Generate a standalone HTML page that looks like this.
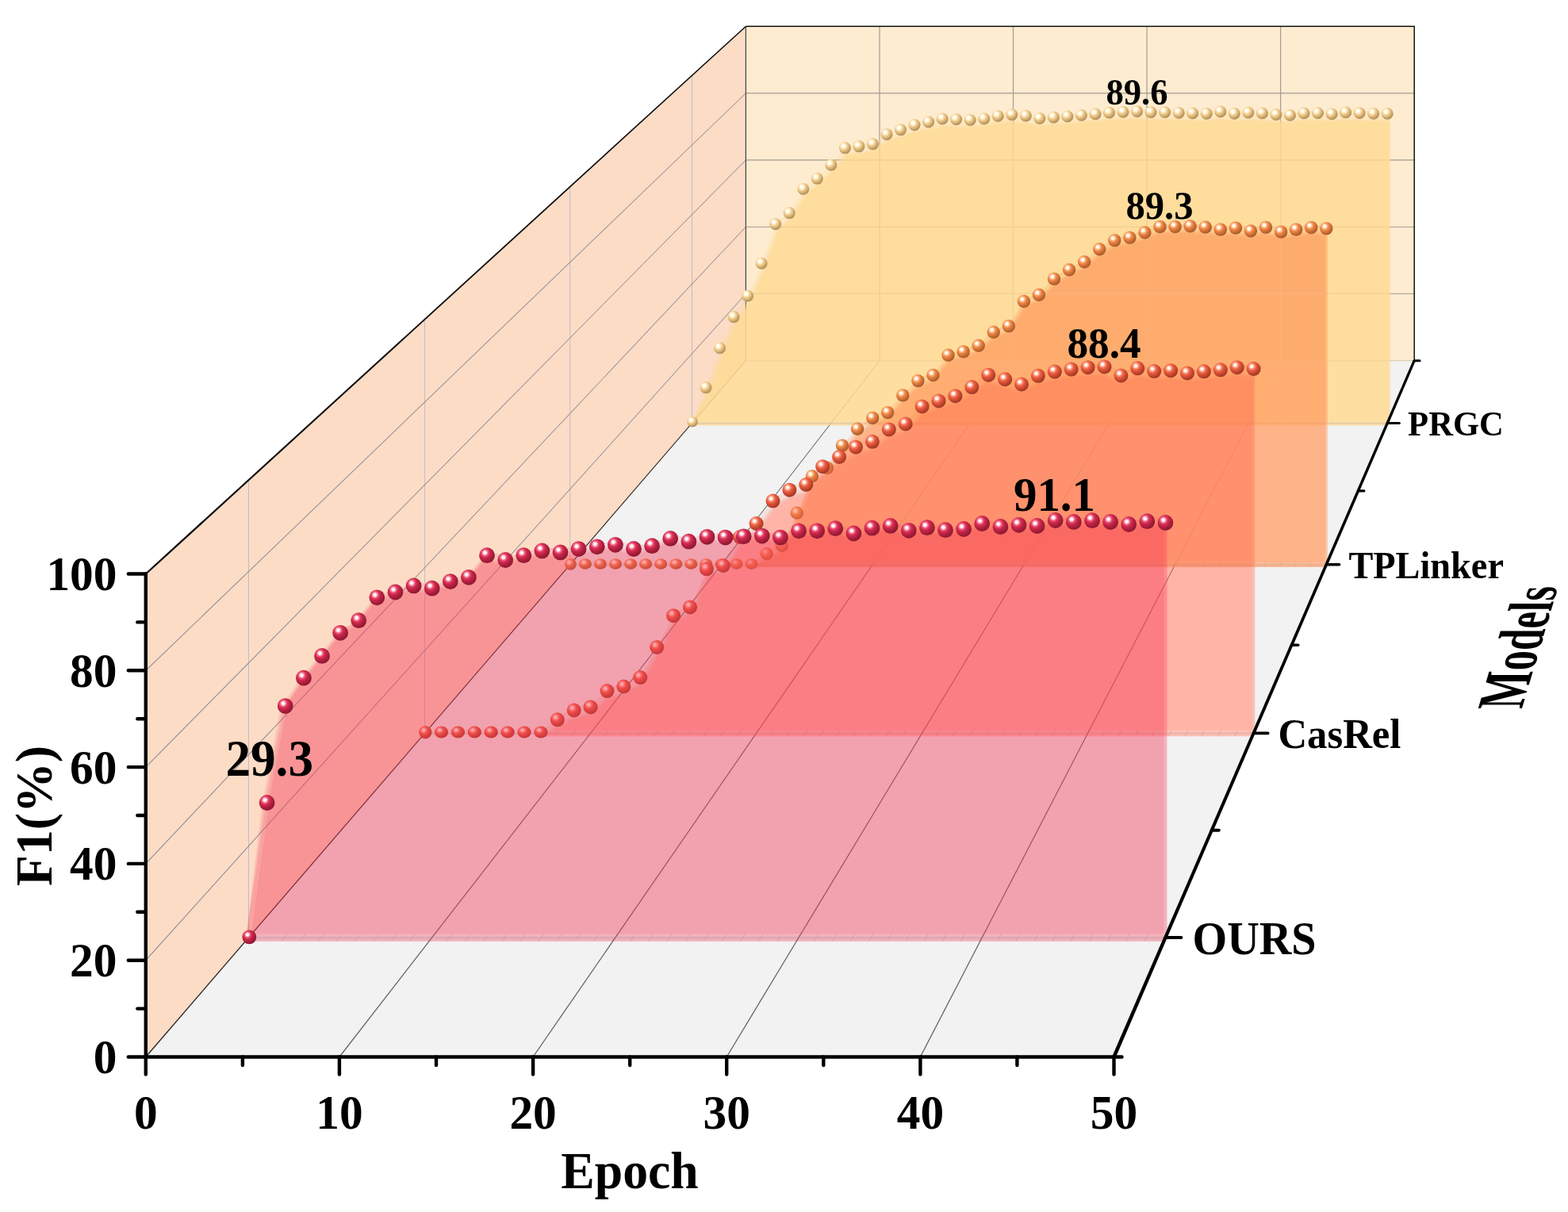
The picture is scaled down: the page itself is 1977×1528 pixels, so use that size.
<!DOCTYPE html>
<html lang="en"><head><meta charset="utf-8"><title>F1 vs Epoch by Model</title>
<style>html,body{margin:0;padding:0;background:#fff}body{width:1977px;height:1528px;overflow:hidden}svg{display:block}text{font-family:"Liberation Serif",serif;font-weight:bold;fill:#000}</style>
</head><body>
<svg width="1977" height="1528" viewBox="0 0 1977 1528" role="img" aria-label="F1 score versus epoch for four models">
<defs>
<radialGradient id="gO" cx="0.37" cy="0.33" r="0.74" fx="0.37" fy="0.33"><stop offset="0" stop-color="#ffffff"/><stop offset="0.12" stop-color="#fff0f4"/><stop offset="0.27" stop-color="#f05a7c"/><stop offset="0.42" stop-color="#d12a4e"/><stop offset="0.7" stop-color="#a81d3b"/><stop offset="1" stop-color="#84162d"/></radialGradient>
<radialGradient id="gC" cx="0.37" cy="0.33" r="0.74" fx="0.37" fy="0.33"><stop offset="0" stop-color="#ffffff"/><stop offset="0.12" stop-color="#fff3ec"/><stop offset="0.27" stop-color="#fc9074"/><stop offset="0.42" stop-color="#ea5d40"/><stop offset="0.7" stop-color="#c2442d"/><stop offset="1" stop-color="#933221"/></radialGradient>
<radialGradient id="gT" cx="0.37" cy="0.33" r="0.74" fx="0.37" fy="0.33"><stop offset="0" stop-color="#ffffff"/><stop offset="0.14" stop-color="#fff7ec"/><stop offset="0.29" stop-color="#fcae74"/><stop offset="0.44" stop-color="#ec8544"/><stop offset="0.7" stop-color="#c66a34"/><stop offset="1" stop-color="#9c5429"/></radialGradient>
<radialGradient id="gP" cx="0.37" cy="0.33" r="0.74" fx="0.37" fy="0.33"><stop offset="0" stop-color="#ffffff"/><stop offset="0.17" stop-color="#fffdf2"/><stop offset="0.33" stop-color="#fbe0ac"/><stop offset="0.48" stop-color="#ebc789"/><stop offset="0.72" stop-color="#cba669"/><stop offset="1" stop-color="#a38351"/></radialGradient>
</defs>
<rect width="1977" height="1528" fill="#ffffff"/>
<polygon points="183.8,1332.5 183.8,723.5 940.4,33.2 940.4,454.7" fill="#fddcc6"/>
<polygon points="940.4,454.7 940.4,33.2 1783.2,33.2 1783.2,454.7" fill="#feecd1"/>
<polygon points="183.8,1332.5 1404.5,1332.5 1783.2,454.7 940.4,454.7" fill="#f2f2f2"/>
</g>
<clipPath id="cFloor"><polygon points="183.8,1332.5 1404.5,1332.5 1783.2,454.7 940.4,454.7"/></clipPath>
<g clip-path="url(#cFloor)" fill="#fff3f2"><polygon points="870.1,536.2 896.3,494.4 913.8,444.7 930.9,406.4 948.5,379.7 966.5,337.8 983.5,289.3 1000.2,276.6 1017.7,246.3 1034.1,234.3 1052.5,216.3 1068.3,196.5 1082.1,195.9 1102.0,192.2 1120.1,179.8 1136.4,174.5 1153.5,168.5 1170.6,164.9 1187.0,161.0 1203.3,161.8 1221.5,162.6 1240.1,161.0 1257.7,157.5 1274.0,155.9 1290.3,157.2 1308.6,160.5 1327.3,159.2 1344.9,158.0 1362.5,156.6 1380.2,155.0 1397.5,153.3 1414.9,152.5 1431.9,151.7 1449.3,152.8 1466.9,152.8 1484.4,153.5 1502.0,154.0 1520.3,154.5 1537.3,152.0 1554.6,154.5 1572.6,153.3 1589.4,154.0 1606.9,155.8 1625.6,156.6 1643.4,154.0 1660.0,153.8 1678.0,155.0 1695.7,153.0 1712.5,153.8 1730.3,154.5 1748.0,154.5 1748.0,536.2 870.1,536.2"/><polygon points="716.0,715.0 735.1,715.0 754.2,715.0 773.3,715.0 792.4,715.0 811.5,715.0 830.6,715.0 849.7,715.0 868.8,715.0 887.9,715.0 907.0,715.0 926.1,715.0 945.2,715.0 967.9,707.3 988.9,694.9 1008.8,652.6 1027.3,607.3 1045.6,597.8 1065.2,568.8 1083.5,548.8 1101.2,536.0 1121.2,528.5 1141.1,506.0 1159.1,488.7 1178.8,481.1 1197.7,455.9 1214.6,452.8 1235.4,444.4 1254.5,427.2 1274.7,418.7 1293.9,387.5 1312.1,380.0 1331.5,359.6 1349.6,348.9 1369.2,338.6 1388.4,322.4 1406.0,312.1 1424.3,308.8 1444.0,302.3 1462.1,295.2 1480.1,295.3 1498.9,294.5 1517.3,295.8 1537.0,298.8 1556.0,296.8 1575.5,300.6 1594.3,296.0 1613.1,301.8 1633.7,298.8 1652.0,296.3 1670.9,297.5 1670.9,715.0 716.0,715.0"/><polygon points="532.3,928.2 553.2,928.2 574.1,928.2 595.1,928.2 616.0,928.2 636.9,928.2 657.9,928.2 678.8,928.2 704.6,918.2 723.7,907.3 745.9,902.6 767.1,882.1 786.7,877.2 810.9,863.4 832.9,823.7 852.9,785.3 874.2,774.0 894.8,726.2 915.0,722.7 936.7,685.8 957.2,669.2 978.0,641.0 996.6,628.8 1018.7,621.4 1040.2,598.1 1059.9,586.7 1080.1,574.8 1101.5,567.6 1122.4,552.2 1144.2,544.8 1165.2,522.7 1183.8,516.8 1205.4,510.3 1227.6,498.5 1246.0,484.2 1262.6,489.6 1286.8,496.2 1309.8,484.9 1329.4,480.1 1349.8,477.2 1370.2,474.9 1388.5,473.8 1411.1,485.2 1433.5,475.9 1452.7,479.8 1473.8,478.9 1495.0,482.1 1517.0,480.0 1538.1,477.9 1558.3,474.9 1578.9,476.7 1578.9,928.2 532.3,928.2"/></g>
<g fill="none" stroke-linecap="butt">
<g fill="none" stroke-linecap="butt">
<line x1="313.5" y1="1182.0" x2="313.5" y2="605.2" stroke="#bdbcc9" stroke-width="1"/>
<line x1="535.6" y1="924.4" x2="535.6" y2="402.5" stroke="#bdbcc9" stroke-width="1"/>
<line x1="718.8" y1="711.8" x2="718.8" y2="235.4" stroke="#bdbcc9" stroke-width="1"/>
<line x1="872.5" y1="533.5" x2="872.5" y2="95.2" stroke="#bdbcc9" stroke-width="1"/>
<polygon points="184.19,1211.05 940.68,370.65 940.12,370.15 183.41,1210.35" fill="#88888f" fill-opacity="1.0" stroke="none"/>
<polygon points="184.18,1089.26 940.67,286.36 940.13,285.84 183.42,1088.54" fill="#88888f" fill-opacity="1.0" stroke="none"/>
<polygon points="184.17,967.47 940.67,202.06 940.13,201.54 183.43,966.73" fill="#88888f" fill-opacity="1.0" stroke="none"/>
<polygon points="184.16,845.68 940.66,117.77 940.14,117.23 183.44,844.92" fill="#88888f" fill-opacity="1.0" stroke="none"/>
<line x1="940.4" y1="370.4" x2="1783.2" y2="370.4" stroke="#b0a79b" stroke-width="1.4"/>
<line x1="940.4" y1="286.1" x2="1783.2" y2="286.1" stroke="#b0a79b" stroke-width="1.4"/>
<line x1="940.4" y1="201.8" x2="1783.2" y2="201.8" stroke="#b0a79b" stroke-width="1.4"/>
<line x1="940.4" y1="117.5" x2="1783.2" y2="117.5" stroke="#b0a79b" stroke-width="1.4"/>
<line x1="1109.0" y1="454.7" x2="1109.0" y2="33.2" stroke="#a29c94" stroke-width="1.2"/>
<line x1="1277.5" y1="454.7" x2="1277.5" y2="33.2" stroke="#a29c94" stroke-width="1.2"/>
<line x1="1446.1" y1="454.7" x2="1446.1" y2="33.2" stroke="#a29c94" stroke-width="1.2"/>
<line x1="1614.6" y1="454.7" x2="1614.6" y2="33.2" stroke="#a29c94" stroke-width="1.2"/>
<polygon points="428.45,1332.90 1109.32,454.98 1108.60,454.42 427.43,1332.10" fill="#626262" fill-opacity="1.0" stroke="none"/>
<polygon points="672.62,1332.87 1277.89,454.96 1277.15,454.44 671.54,1332.13" fill="#626262" fill-opacity="1.0" stroke="none"/>
<polygon points="916.78,1332.84 1446.47,454.93 1445.69,454.47 915.66,1332.16" fill="#626262" fill-opacity="1.0" stroke="none"/>
<polygon points="1160.94,1332.80 1615.04,454.91 1614.24,454.49 1159.78,1332.20" fill="#626262" fill-opacity="1.0" stroke="none"/>
<polygon points="184.31,1332.94 940.78,455.03 940.02,454.37 183.29,1332.06" fill="#262626" fill-opacity="1.0" stroke="none"/>
<line x1="940.4" y1="454.7" x2="940.4" y2="33.2" stroke="#444" stroke-width="1.2"/>
<line x1="940.4" y1="454.7" x2="1783.2" y2="454.7" stroke="#d9c4a4" stroke-width="1"/>
<polyline points="940.4,33.2 1783.2,33.2 1783.2,454.7" stroke="#111" stroke-width="1.5" stroke-linejoin="round"/>
<polygon points="184.58,724.35 940.91,33.75 939.89,32.65 183.02,722.65" fill="#0c0c0c" fill-opacity="1.0" stroke="none"/>
</g>
<g fill="#fedb94">
<polygon points="874.8,530.8 892.3,486.0 909.8,436.2 927.3,397.1 944.8,370.5 962.4,329.6 979.9,280.1 997.4,266.2 1014.9,235.9 1032.4,222.8 1049.9,205.6 1067.4,184.4 1084.9,182.4 1102.5,179.4 1120.0,167.2 1137.5,161.4 1155.0,155.3 1172.5,151.6 1190.0,147.5 1207.5,148.3 1225.0,149.0 1242.5,147.5 1260.1,144.0 1277.6,142.4 1295.1,143.7 1312.6,147.0 1330.1,145.7 1347.6,144.5 1365.1,143.1 1382.6,141.5 1400.1,139.8 1417.7,139.0 1435.2,138.2 1452.7,139.3 1470.2,139.3 1487.7,140.0 1505.2,140.5 1522.7,141.0 1540.2,138.5 1557.7,141.0 1575.3,139.8 1592.8,140.5 1610.3,142.3 1627.8,143.1 1645.3,140.5 1662.8,140.3 1680.3,141.5 1697.8,139.5 1715.3,140.3 1732.9,141.0 1753.2,141.0 1753.2,530.8 874.8,530.8" fill-opacity="0.255"/>
<polyline points="874.8,530.8 892.3,486.0 909.8,436.2 927.3,397.1 944.8,370.5 962.4,329.6 979.9,280.1 997.4,266.2 1014.9,235.9 1032.4,222.8 1049.9,205.6 1067.4,184.4 1084.9,182.4 1102.5,179.4 1120.0,167.2 1137.5,161.4 1155.0,155.3 1172.5,151.6 1190.0,147.5 1207.5,148.3 1225.0,149.0 1242.5,147.5 1260.1,144.0 1277.6,142.4 1295.1,143.7 1312.6,147.0 1330.1,145.7 1347.6,144.5 1365.1,143.1 1382.6,141.5 1400.1,139.8 1417.7,139.0 1435.2,138.2 1452.7,139.3 1470.2,139.3 1487.7,140.0 1505.2,140.5 1522.7,141.0 1540.2,138.5 1557.7,141.0 1575.3,139.8 1592.8,140.5 1610.3,142.3 1627.8,143.1 1645.3,140.5 1662.8,140.3 1680.3,141.5 1697.8,139.5 1715.3,140.3 1732.9,141.0 1750.4,141.0" fill="none" stroke="#f0b45e" stroke-opacity="0.14" stroke-width="0.9" stroke-linejoin="round"/>
<polygon points="1750.8,152.4 1753.2,148.0 1753.2,530.8 1750.8,536.2" fill-opacity="0.468"/>
<polygon points="870.1,536.2 892.2,492.9 909.8,443.2 927.1,404.4 944.7,377.7 962.4,336.2 979.7,287.2 996.8,274.0 1014.4,243.6 1031.3,231.1 1049.3,213.4 1066.0,192.9 1081.5,191.6 1100.3,188.3 1118.2,175.9 1135.1,170.4 1152.4,164.4 1169.7,160.7 1186.6,156.7 1203.5,157.5 1221.4,158.2 1239.5,156.7 1257.1,153.2 1274.0,151.6 1290.9,152.9 1308.8,156.2 1327.0,154.9 1344.6,153.7 1362.2,152.3 1379.8,150.7 1397.2,149.0 1414.7,148.2 1432.0,147.4 1449.4,148.5 1467.0,148.5 1484.5,149.2 1502.1,149.7 1520.1,150.2 1537.3,147.7 1554.7,150.2 1572.5,149.0 1589.7,149.7 1607.2,151.5 1625.4,152.3 1643.1,149.7 1660.1,149.5 1677.9,150.7 1695.5,148.7 1712.7,149.5 1730.4,150.2 1750.8,150.2 1750.8,536.2 870.1,536.2" fill-opacity="0.3301"/>
<polygon points="870.1,536.2 893.6,493.4 911.1,443.7 928.4,405.1 945.9,378.4 963.8,336.7 981.0,287.9 998.0,274.9 1015.5,244.5 1032.3,232.2 1050.4,214.4 1066.8,194.1 1081.7,193.1 1100.9,189.6 1118.8,177.2 1135.5,171.8 1152.8,165.8 1170.0,162.1 1186.8,158.2 1203.5,159.0 1221.4,159.7 1239.7,158.1 1257.3,154.6 1274.0,153.1 1290.7,154.3 1308.7,157.7 1327.1,156.4 1344.7,155.2 1362.3,153.8 1379.9,152.1 1397.3,150.5 1414.7,149.7 1431.9,148.9 1449.4,150.0 1467.0,150.0 1484.5,150.7 1502.0,151.2 1520.1,151.7 1537.3,149.2 1554.7,151.7 1572.5,150.5 1589.6,151.2 1607.1,153.0 1625.5,153.8 1643.2,151.2 1660.1,151.0 1677.9,152.2 1695.6,150.2 1712.6,151.0 1730.3,151.7 1750.8,151.7 1750.8,536.2 870.1,536.2" fill-opacity="0.3301"/>
<polygon points="870.1,536.2 894.9,493.9 912.4,444.2 929.6,405.8 947.2,379.1 965.1,337.2 982.2,288.6 999.1,275.7 1016.6,245.4 1033.2,233.2 1051.4,215.4 1067.5,195.3 1081.9,194.5 1101.5,190.9 1119.5,178.5 1136.0,173.1 1153.1,167.1 1170.3,163.5 1186.9,159.6 1203.4,160.4 1221.5,161.1 1239.9,159.5 1257.5,156.0 1274.0,154.5 1290.5,155.7 1308.6,159.1 1327.2,157.8 1344.8,156.6 1362.4,155.2 1380.0,153.6 1397.4,151.9 1414.8,151.1 1431.9,150.3 1449.3,151.4 1467.0,151.4 1484.4,152.1 1502.0,152.6 1520.2,153.1 1537.3,150.6 1554.6,153.1 1572.6,151.9 1589.5,152.6 1607.0,154.4 1625.5,155.2 1643.3,152.6 1660.0,152.4 1678.0,153.6 1695.6,151.6 1712.6,152.4 1730.3,153.1 1750.8,153.1 1750.8,536.2 870.1,536.2" fill-opacity="0.3301"/>
<polygon points="870.1,536.2 896.3,494.4 913.8,444.7 930.9,406.4 948.5,379.7 966.5,337.8 983.5,289.3 1000.2,276.6 1017.7,246.3 1034.1,234.3 1052.5,216.3 1068.3,196.5 1082.1,195.9 1102.0,192.2 1120.1,179.8 1136.4,174.5 1153.5,168.5 1170.6,164.9 1187.0,161.0 1203.3,161.8 1221.5,162.6 1240.1,161.0 1257.7,157.5 1274.0,155.9 1290.3,157.2 1308.6,160.5 1327.3,159.2 1344.9,158.0 1362.5,156.6 1380.2,155.0 1397.5,153.3 1414.9,152.5 1431.9,151.7 1449.3,152.8 1466.9,152.8 1484.4,153.5 1502.0,154.0 1520.3,154.5 1537.3,152.0 1554.6,154.5 1572.6,153.3 1589.4,154.0 1606.9,155.8 1625.6,156.6 1643.4,154.0 1660.0,153.8 1678.0,155.0 1695.7,153.0 1712.5,153.8 1730.3,154.5 1750.8,154.5 1750.8,536.2 870.1,536.2" fill-opacity="0.3301"/>
</g>
<line x1="872.5" y1="533.7" x2="1749.2" y2="533.7" stroke="#8f8f96" stroke-opacity="0.2" stroke-width="2.4"/>
<path d="M909.0 530.8L904.4 536.2M926.5 530.8L921.9 536.2M944.0 530.8L939.5 536.2M961.5 530.8L957.1 536.2M979.0 530.8L974.6 536.2M996.5 530.8L992.2 536.2M1014.0 530.8L1009.7 536.2M1031.5 530.8L1027.3 536.2M1049.0 530.8L1044.8 536.2M1066.6 530.8L1062.4 536.2M1084.1 530.8L1080.0 536.2M1101.6 530.8L1097.5 536.2M1119.1 530.8L1115.1 536.2M1136.6 530.8L1132.6 536.2M1154.1 530.8L1150.2 536.2M1171.6 530.8L1167.7 536.2M1189.1 530.8L1185.3 536.2M1206.6 530.8L1202.9 536.2M1224.2 530.8L1220.4 536.2M1241.7 530.8L1238.0 536.2M1259.2 530.8L1255.5 536.2M1276.7 530.8L1273.1 536.2M1294.2 530.8L1290.7 536.2M1311.7 530.8L1308.2 536.2M1329.2 530.8L1325.8 536.2M1346.7 530.8L1343.3 536.2M1364.2 530.8L1360.9 536.2M1381.8 530.8L1378.4 536.2M1399.3 530.8L1396.0 536.2M1416.8 530.8L1413.6 536.2M1434.3 530.8L1431.1 536.2M1451.8 530.8L1448.7 536.2M1469.3 530.8L1466.2 536.2M1486.8 530.8L1483.8 536.2M1504.3 530.8L1501.3 536.2M1521.8 530.8L1518.9 536.2M1539.4 530.8L1536.5 536.2M1556.9 530.8L1554.0 536.2M1574.4 530.8L1571.6 536.2M1591.9 530.8L1589.1 536.2M1609.4 530.8L1606.7 536.2M1626.9 530.8L1624.3 536.2M1644.4 530.8L1641.8 536.2M1661.9 530.8L1659.4 536.2M1679.4 530.8L1676.9 536.2M1697.0 530.8L1694.5 536.2M1714.5 530.8L1712.0 536.2M1732.0 530.8L1729.6 536.2M1749.5 530.8L1747.2 536.2" fill="none" stroke="#f0b45e" stroke-opacity="0.3" stroke-width="0.7"/>
<clipPath id="cPRGC"><polygon points="870.1,536.2 896.1,494.4 913.6,444.7 930.8,406.4 948.4,379.6 966.3,337.7 983.4,289.2 1000.1,276.5 1017.6,246.2 1034.0,234.2 1052.4,216.2 1068.3,196.3 1082.1,195.8 1102.0,192.1 1120.1,179.6 1136.4,174.3 1153.5,168.4 1170.6,164.8 1187.0,160.9 1203.4,161.7 1221.5,162.4 1240.1,160.8 1257.7,157.3 1274.0,155.8 1290.4,157.0 1308.6,160.4 1327.3,159.1 1344.9,157.9 1362.5,156.5 1380.2,154.9 1397.5,153.2 1414.8,152.4 1431.9,151.6 1449.3,152.7 1466.9,152.7 1484.4,153.4 1502.0,153.9 1520.3,154.4 1537.3,151.9 1554.6,154.4 1572.6,153.2 1589.4,153.9 1606.9,155.7 1625.6,156.5 1643.4,153.9 1660.0,153.7 1678.0,154.9 1695.7,152.9 1712.5,153.7 1730.3,154.4 1750.8,154.4 1750.8,536.2 870.1,536.2"/></clipPath>
<g clip-path="url(#cPRGC)" stroke="#f7cd96" stroke-opacity="0.75" stroke-width="1.1" fill="none"><polyline points="1047.8,533.5 1109.0,454.7 1109.0,33.2"/><polyline points="1223.2,533.5 1277.5,454.7 1277.5,33.2"/><polyline points="1398.5,533.5 1446.1,454.7 1446.1,33.2"/><polyline points="1573.9,533.5 1614.6,454.7 1614.6,33.2"/><polyline points="872.5,533.5 940.4,454.7 1783.2,454.7"/><polyline points="872.5,445.8 940.4,370.4 1783.2,370.4"/><polyline points="872.5,358.2 940.4,286.1 1783.2,286.1"/><polyline points="872.5,270.5 940.4,201.8 1783.2,201.8"/><polyline points="872.5,182.8 940.4,117.5 1783.2,117.5"/><line x1="940.4" y1="454.7" x2="940.4" y2="33.2"/></g>
<g fill="url(#gP)"><circle cx="873.0" cy="531.8" r="6.8"/><circle cx="890.0" cy="488.6" r="7.5"/><circle cx="907.5" cy="438.8" r="7.5"/><circle cx="925.1" cy="399.6" r="7.5"/><circle cx="942.6" cy="373.0" r="7.5"/><circle cx="960.1" cy="332.0" r="7.5"/><circle cx="977.7" cy="282.5" r="7.5"/><circle cx="995.2" cy="268.6" r="7.5"/><circle cx="1012.8" cy="238.2" r="7.5"/><circle cx="1030.3" cy="225.1" r="7.5"/><circle cx="1047.8" cy="207.9" r="7.5"/><circle cx="1065.4" cy="186.6" r="7.5"/><circle cx="1082.9" cy="184.6" r="7.5"/><circle cx="1100.4" cy="181.6" r="7.5"/><circle cx="1118.0" cy="169.4" r="7.5"/><circle cx="1135.5" cy="163.6" r="7.5"/><circle cx="1153.0" cy="157.5" r="7.5"/><circle cx="1170.6" cy="153.8" r="7.5"/><circle cx="1188.1" cy="149.7" r="7.5"/><circle cx="1205.6" cy="150.5" r="7.5"/><circle cx="1223.2" cy="151.2" r="7.5"/><circle cx="1240.7" cy="149.7" r="7.5"/><circle cx="1258.2" cy="146.2" r="7.5"/><circle cx="1275.8" cy="144.6" r="7.5"/><circle cx="1293.3" cy="145.9" r="7.5"/><circle cx="1310.8" cy="149.2" r="7.5"/><circle cx="1328.4" cy="147.9" r="7.5"/><circle cx="1345.9" cy="146.7" r="7.5"/><circle cx="1363.4" cy="145.3" r="7.5"/><circle cx="1381.0" cy="143.7" r="7.5"/><circle cx="1398.5" cy="142.0" r="7.5"/><circle cx="1416.0" cy="141.2" r="7.5"/><circle cx="1433.6" cy="140.4" r="7.5"/><circle cx="1451.1" cy="141.5" r="7.5"/><circle cx="1468.6" cy="141.5" r="7.5"/><circle cx="1486.2" cy="142.2" r="7.5"/><circle cx="1503.7" cy="142.7" r="7.5"/><circle cx="1521.3" cy="143.2" r="7.5"/><circle cx="1538.8" cy="140.7" r="7.5"/><circle cx="1556.3" cy="143.2" r="7.5"/><circle cx="1573.9" cy="142.0" r="7.5"/><circle cx="1591.4" cy="142.7" r="7.5"/><circle cx="1608.9" cy="144.5" r="7.5"/><circle cx="1626.5" cy="145.3" r="7.5"/><circle cx="1644.0" cy="142.7" r="7.5"/><circle cx="1661.5" cy="142.5" r="7.5"/><circle cx="1679.1" cy="143.7" r="7.5"/><circle cx="1696.6" cy="141.7" r="7.5"/><circle cx="1714.1" cy="142.5" r="7.5"/><circle cx="1731.7" cy="143.2" r="7.5"/><circle cx="1749.2" cy="143.2" r="7.5"/></g>
<g fill="#ff995c">
<polygon points="721.5,708.6 740.6,708.6 759.6,708.6 778.7,708.6 797.7,708.6 816.7,708.6 835.8,708.6 854.8,708.6 873.9,708.6 892.9,708.6 912.0,708.6 931.0,708.6 950.0,708.6 969.1,695.1 988.1,684.5 1007.2,643.6 1026.2,597.4 1045.3,587.0 1064.3,558.6 1083.3,537.8 1102.4,524.1 1121.4,517.2 1140.5,495.5 1159.5,477.2 1178.6,470.1 1197.6,444.9 1216.6,440.6 1235.7,433.0 1254.7,415.9 1273.8,408.3 1292.8,377.3 1311.8,369.1 1330.9,348.9 1349.9,337.6 1369.0,327.7 1388.0,311.6 1407.1,300.5 1426.1,297.0 1445.1,290.7 1464.2,283.3 1483.2,283.3 1502.3,282.5 1521.3,283.8 1540.4,286.8 1559.4,284.8 1578.4,288.6 1597.5,284.0 1616.5,289.8 1635.6,286.8 1654.6,284.3 1673.7,285.5 1673.7,708.6 721.5,708.6" fill-opacity="0.210"/>
<polyline points="721.5,708.6 740.6,708.6 759.6,708.6 778.7,708.6 797.7,708.6 816.7,708.6 835.8,708.6 854.8,708.6 873.9,708.6 892.9,708.6 912.0,708.6 931.0,708.6 950.0,708.6 969.1,695.1 988.1,684.5 1007.2,643.6 1026.2,597.4 1045.3,587.0 1064.3,558.6 1083.3,537.8 1102.4,524.1 1121.4,517.2 1140.5,495.5 1159.5,477.2 1178.6,470.1 1197.6,444.9 1216.6,440.6 1235.7,433.0 1254.7,415.9 1273.8,408.3 1292.8,377.3 1311.8,369.1 1330.9,348.9 1349.9,337.6 1369.0,327.7 1388.0,311.6 1407.1,300.5 1426.1,297.0 1445.1,290.7 1464.2,283.3 1483.2,283.3 1502.3,282.5 1521.3,283.8 1540.4,286.8 1559.4,284.8 1578.4,288.6 1597.5,284.0 1616.5,289.8 1635.6,286.8 1654.6,284.3 1673.7,285.5" fill="none" stroke="#f07a3a" stroke-opacity="0.14" stroke-width="0.9" stroke-linejoin="round"/>
<polygon points="1670.9,295.2 1673.7,290.0 1673.7,708.6 1670.9,715.0" fill-opacity="0.385"/>
<polygon points="716.0,715.0 735.1,715.0 754.2,715.0 773.3,715.0 792.4,715.0 811.5,715.0 830.6,715.0 849.7,715.0 868.8,715.0 887.9,715.0 907.0,715.0 926.1,715.0 945.2,715.0 965.4,703.3 985.1,692.2 1004.5,650.7 1023.4,604.6 1042.2,594.5 1061.5,565.9 1080.3,545.4 1099.0,531.8 1118.4,524.8 1137.7,502.8 1156.5,484.8 1175.8,477.5 1194.8,452.2 1213.2,448.3 1232.8,440.4 1251.9,423.3 1271.4,415.4 1290.5,384.2 1309.3,376.2 1328.5,355.9 1347.3,344.9 1366.6,334.7 1385.7,318.6 1404.3,307.7 1423.2,304.3 1442.5,297.9 1461.2,290.6 1480.0,290.6 1499.0,289.8 1517.9,291.1 1537.2,294.2 1556.2,292.1 1575.5,296.0 1594.4,291.3 1613.4,297.2 1633.0,294.1 1651.9,291.6 1670.9,292.9 1670.9,715.0 716.0,715.0" fill-opacity="0.2150"/>
<polygon points="716.0,715.0 735.1,715.0 754.2,715.0 773.3,715.0 792.4,715.0 811.5,715.0 830.6,715.0 849.7,715.0 868.8,715.0 887.9,715.0 907.0,715.0 926.1,715.0 945.2,715.0 966.3,704.6 986.4,693.1 1005.9,651.3 1024.7,605.5 1043.3,595.6 1062.7,566.9 1081.4,546.5 1099.7,533.2 1119.3,526.0 1138.9,503.9 1157.3,486.1 1176.8,478.7 1195.7,453.5 1213.7,449.8 1233.7,441.7 1252.8,424.6 1272.5,416.5 1291.6,385.3 1310.3,377.5 1329.5,357.2 1348.0,346.2 1367.4,336.0 1386.6,319.9 1404.9,309.2 1423.6,305.8 1443.0,299.4 1461.5,292.1 1480.0,292.2 1499.0,291.4 1517.7,292.7 1537.1,295.7 1556.1,293.7 1575.5,297.5 1594.4,292.9 1613.3,298.7 1633.2,295.7 1651.9,293.2 1670.9,294.4 1670.9,715.0 716.0,715.0" fill-opacity="0.2150"/>
<polygon points="716.0,715.0 735.1,715.0 754.2,715.0 773.3,715.0 792.4,715.0 811.5,715.0 830.6,715.0 849.7,715.0 868.8,715.0 887.9,715.0 907.0,715.0 926.1,715.0 945.2,715.0 967.1,705.9 987.6,694.0 1007.3,651.9 1026.0,606.4 1044.4,596.7 1063.9,567.8 1082.4,547.7 1100.5,534.6 1120.2,527.3 1140.0,504.9 1158.2,487.4 1177.8,479.9 1196.7,454.7 1214.1,451.3 1234.5,443.0 1253.6,425.9 1273.6,417.6 1292.7,386.4 1311.2,378.8 1330.5,358.4 1348.8,347.6 1368.3,337.3 1387.5,321.1 1405.4,310.6 1423.9,307.3 1443.5,300.9 1461.8,293.7 1480.0,293.8 1498.9,293.0 1517.5,294.2 1537.1,297.3 1556.1,295.3 1575.5,299.1 1594.3,294.5 1613.2,300.3 1633.5,297.2 1652.0,294.8 1670.9,296.0 1670.9,715.0 716.0,715.0" fill-opacity="0.2150"/>
<polygon points="716.0,715.0 735.1,715.0 754.2,715.0 773.3,715.0 792.4,715.0 811.5,715.0 830.6,715.0 849.7,715.0 868.8,715.0 887.9,715.0 907.0,715.0 926.1,715.0 945.2,715.0 967.9,707.3 988.9,694.9 1008.8,652.6 1027.3,607.3 1045.6,597.8 1065.2,568.8 1083.5,548.8 1101.2,536.0 1121.2,528.5 1141.1,506.0 1159.1,488.7 1178.8,481.1 1197.7,455.9 1214.6,452.8 1235.4,444.4 1254.5,427.2 1274.7,418.7 1293.9,387.5 1312.1,380.0 1331.5,359.6 1349.6,348.9 1369.2,338.6 1388.4,322.4 1406.0,312.1 1424.3,308.8 1444.0,302.3 1462.1,295.2 1480.1,295.3 1498.9,294.5 1517.3,295.8 1537.0,298.8 1556.0,296.8 1575.5,300.6 1594.3,296.0 1613.1,301.8 1633.7,298.8 1652.0,296.3 1670.9,297.5 1670.9,715.0 716.0,715.0" fill-opacity="0.2150"/>
</g>
<line x1="718.8" y1="712.1" x2="1672.3" y2="712.1" stroke="#8f8f96" stroke-opacity="0.2" stroke-width="2.7"/>
<path d="M758.7 708.6L753.3 715.0M777.7 708.6L772.4 715.0M796.8 708.6L791.5 715.0M815.8 708.6L810.6 715.0M834.8 708.6L829.7 715.0M853.9 708.6L848.7 715.0M872.9 708.6L867.8 715.0M892.0 708.6L886.9 715.0M911.0 708.6L906.0 715.0M930.1 708.6L925.1 715.0M949.1 708.6L944.2 715.0M968.1 708.6L963.3 715.0M987.2 708.6L982.4 715.0M1006.2 708.6L1001.5 715.0M1025.3 708.6L1020.6 715.0M1044.3 708.6L1039.7 715.0M1063.3 708.6L1058.8 715.0M1082.4 708.6L1077.9 715.0M1101.4 708.6L1097.0 715.0M1120.5 708.6L1116.1 715.0M1139.5 708.6L1135.2 715.0M1158.6 708.6L1154.3 715.0M1177.6 708.6L1173.4 715.0M1196.6 708.6L1192.5 715.0M1215.7 708.6L1211.6 715.0M1234.7 708.6L1230.7 715.0M1253.8 708.6L1249.8 715.0M1272.8 708.6L1268.9 715.0M1291.9 708.6L1288.0 715.0M1310.9 708.6L1307.1 715.0M1329.9 708.6L1326.2 715.0M1349.0 708.6L1345.3 715.0M1368.0 708.6L1364.4 715.0M1387.1 708.6L1383.5 715.0M1406.1 708.6L1402.6 715.0M1425.2 708.6L1421.7 715.0M1444.2 708.6L1440.8 715.0M1463.2 708.6L1459.9 715.0M1482.3 708.6L1479.0 715.0M1501.3 708.6L1498.1 715.0M1520.4 708.6L1517.2 715.0M1539.4 708.6L1536.3 715.0M1558.4 708.6L1555.4 715.0M1577.5 708.6L1574.5 715.0M1596.5 708.6L1593.5 715.0M1615.6 708.6L1612.6 715.0M1634.6 708.6L1631.7 715.0M1653.7 708.6L1650.8 715.0M1672.7 708.6L1669.9 715.0" fill="none" stroke="#f07a3a" stroke-opacity="0.3" stroke-width="0.8"/>
<clipPath id="cTPLinker"><polygon points="716.0,715.0 735.1,715.0 754.2,715.0 773.3,715.0 792.4,715.0 811.5,715.0 830.6,715.0 849.7,715.0 868.8,715.0 887.9,715.0 907.0,715.0 926.1,715.0 945.2,715.0 967.8,707.0 988.6,694.7 1008.4,652.4 1027.0,607.1 1045.3,597.6 1064.9,568.6 1083.2,548.6 1101.1,535.7 1121.0,528.2 1140.9,505.8 1158.9,488.4 1178.6,480.8 1197.4,455.7 1214.5,452.4 1235.2,444.1 1254.3,426.9 1274.5,418.4 1293.6,387.3 1311.9,379.7 1331.3,359.3 1349.4,348.6 1369.0,338.3 1388.2,322.1 1405.9,311.8 1424.2,308.5 1443.9,302.0 1462.1,294.9 1480.1,295.0 1498.9,294.2 1517.4,295.5 1537.0,298.5 1556.0,296.5 1575.5,300.3 1594.3,295.7 1613.1,301.5 1633.6,298.4 1652.0,296.0 1670.9,297.2 1670.9,715.0 716.0,715.0"/></clipPath>
<g clip-path="url(#cTPLinker)" stroke="#ffb680" stroke-opacity="0.75" stroke-width="1.1" fill="none"><polyline points="909.5,711.8 1109.0,454.7 1109.0,33.2"/><polyline points="1100.2,711.8 1277.5,454.7 1277.5,33.2"/><polyline points="1290.9,711.8 1446.1,454.7 1446.1,33.2"/><polyline points="1481.6,711.8 1614.6,454.7 1614.6,33.2"/><polyline points="718.8,711.8 940.4,454.7 1783.2,454.7"/><polyline points="718.8,616.5 940.4,370.4 1783.2,370.4"/><polyline points="718.8,521.2 940.4,286.1 1783.2,286.1"/><polyline points="718.8,426.0 940.4,201.8 1783.2,201.8"/><polyline points="718.8,330.7 940.4,117.5 1783.2,117.5"/><line x1="940.4" y1="454.7" x2="940.4" y2="33.2"/></g>
<g fill="url(#gT)"><circle cx="719.4" cy="711.3" r="7.4"/><ellipse cx="737.9" cy="711.0" rx="8.0" ry="6.7"/><ellipse cx="756.9" cy="711.0" rx="8.0" ry="6.7"/><ellipse cx="776.0" cy="711.0" rx="8.0" ry="6.7"/><ellipse cx="795.1" cy="711.0" rx="8.0" ry="6.7"/><ellipse cx="814.1" cy="711.0" rx="8.0" ry="6.7"/><ellipse cx="833.2" cy="711.0" rx="8.0" ry="6.7"/><ellipse cx="852.3" cy="711.0" rx="8.0" ry="6.7"/><ellipse cx="871.3" cy="711.0" rx="8.0" ry="6.7"/><ellipse cx="890.4" cy="711.0" rx="8.0" ry="6.7"/><ellipse cx="909.5" cy="711.0" rx="8.0" ry="6.7"/><ellipse cx="928.6" cy="711.0" rx="8.0" ry="6.7"/><ellipse cx="947.6" cy="711.0" rx="8.0" ry="6.7"/><circle cx="966.7" cy="698.3" r="8.2"/><circle cx="985.8" cy="687.7" r="8.2"/><circle cx="1004.8" cy="646.7" r="8.2"/><circle cx="1023.9" cy="600.4" r="8.2"/><circle cx="1043.0" cy="590.0" r="8.2"/><circle cx="1062.0" cy="561.6" r="8.2"/><circle cx="1081.1" cy="540.8" r="8.2"/><circle cx="1100.2" cy="527.0" r="8.2"/><circle cx="1119.2" cy="520.1" r="8.2"/><circle cx="1138.3" cy="498.4" r="8.2"/><circle cx="1157.4" cy="480.1" r="8.2"/><circle cx="1176.5" cy="473.0" r="8.2"/><circle cx="1195.5" cy="447.7" r="8.2"/><circle cx="1214.6" cy="443.4" r="8.2"/><circle cx="1233.7" cy="435.8" r="8.2"/><circle cx="1252.7" cy="418.7" r="8.2"/><circle cx="1271.8" cy="411.1" r="8.2"/><circle cx="1290.9" cy="380.0" r="8.2"/><circle cx="1309.9" cy="371.8" r="8.2"/><circle cx="1329.0" cy="351.6" r="8.2"/><circle cx="1348.1" cy="340.3" r="8.2"/><circle cx="1367.2" cy="330.3" r="8.2"/><circle cx="1386.2" cy="314.2" r="8.2"/><circle cx="1405.3" cy="303.1" r="8.2"/><circle cx="1424.4" cy="299.6" r="8.2"/><circle cx="1443.4" cy="293.3" r="8.2"/><circle cx="1462.5" cy="285.9" r="8.2"/><circle cx="1481.6" cy="285.9" r="8.2"/><circle cx="1500.6" cy="285.1" r="8.2"/><circle cx="1519.7" cy="286.4" r="8.2"/><circle cx="1538.8" cy="289.4" r="8.2"/><circle cx="1557.9" cy="287.4" r="8.2"/><circle cx="1576.9" cy="291.2" r="8.2"/><circle cx="1596.0" cy="286.6" r="8.2"/><circle cx="1615.1" cy="292.4" r="8.2"/><circle cx="1634.1" cy="289.4" r="8.2"/><circle cx="1653.2" cy="286.9" r="8.2"/><circle cx="1672.3" cy="288.1" r="8.2"/></g>
<g fill="#ff6a52">
<polygon points="538.9,920.5 559.8,920.5 580.6,920.5 601.5,920.5 622.4,920.5 643.2,920.5 664.1,920.5 685.0,920.5 705.8,903.5 726.7,891.7 747.6,887.6 768.4,867.3 789.3,861.8 810.2,850.4 831.0,812.3 851.9,772.6 872.8,761.8 893.6,713.8 914.5,709.5 935.4,673.6 956.2,656.6 977.1,628.2 998.0,614.3 1018.8,607.7 1039.7,584.9 1060.6,572.7 1081.4,560.4 1102.3,553.5 1123.2,538.2 1144.0,531.3 1164.9,509.3 1185.8,502.2 1206.6,496.0 1227.5,484.9 1248.4,469.6 1269.2,475.1 1290.1,481.4 1311.0,470.7 1331.8,465.5 1352.7,462.5 1373.6,460.1 1394.4,459.3 1415.3,470.4 1436.2,461.2 1457.0,465.0 1477.9,464.1 1498.8,467.3 1519.6,465.2 1540.5,463.2 1561.4,460.1 1582.2,461.9 1582.2,920.5 538.9,920.5" fill-opacity="0.138"/>
<polyline points="538.9,920.5 559.8,920.5 580.6,920.5 601.5,920.5 622.4,920.5 643.2,920.5 664.1,920.5 685.0,920.5 705.8,903.5 726.7,891.7 747.6,887.6 768.4,867.3 789.3,861.8 810.2,850.4 831.0,812.3 851.9,772.6 872.8,761.8 893.6,713.8 914.5,709.5 935.4,673.6 956.2,656.6 977.1,628.2 998.0,614.3 1018.8,607.7 1039.7,584.9 1060.6,572.7 1081.4,560.4 1102.3,553.5 1123.2,538.2 1144.0,531.3 1164.9,509.3 1185.8,502.2 1206.6,496.0 1227.5,484.9 1248.4,469.6 1269.2,475.1 1290.1,481.4 1311.0,470.7 1331.8,465.5 1352.7,462.5 1373.6,460.1 1394.4,459.3 1415.3,470.4 1436.2,461.2 1457.0,465.0 1477.9,464.1 1498.8,467.3 1519.6,465.2 1540.5,463.2 1561.4,460.1 1582.2,461.9" fill="none" stroke="#f0523c" stroke-opacity="0.14" stroke-width="0.9" stroke-linejoin="round"/>
<polygon points="1578.9,474.1 1582.2,467.9 1582.2,920.5 1578.9,928.2" fill-opacity="0.253"/>
<polygon points="532.3,928.2 553.2,928.2 574.1,928.2 595.1,928.2 616.0,928.2 636.9,928.2 657.9,928.2 678.8,928.2 701.7,913.9 721.9,902.5 743.3,898.2 764.3,877.8 784.8,872.4 807.0,860.1 828.4,821.3 848.9,782.0 870.0,771.0 890.8,723.0 911.5,719.0 932.7,682.6 953.5,665.8 974.3,637.4 994.3,624.1 1015.7,617.2 1036.9,594.2 1057.3,582.3 1078.0,570.1 1099.1,563.1 1120.0,547.7 1141.3,540.6 1162.2,518.5 1182.2,511.9 1203.4,505.6 1224.9,494.2 1244.8,479.2 1264.0,484.6 1286.2,491.1 1308.0,480.1 1328.4,475.1 1349.1,472.1 1369.9,469.7 1389.7,468.9 1411.3,480.1 1432.8,470.8 1453.1,474.7 1474.1,473.8 1495.1,477.0 1516.5,474.8 1537.5,472.8 1558.1,469.8 1578.9,471.6 1578.9,928.2 532.3,928.2" fill-opacity="0.1103"/>
<polygon points="532.3,928.2 553.2,928.2 574.1,928.2 595.1,928.2 616.0,928.2 636.9,928.2 657.9,928.2 678.8,928.2 702.7,915.4 722.5,904.1 744.2,899.6 765.2,879.2 785.4,874.0 808.3,861.2 829.9,822.1 850.2,783.1 871.4,772.0 892.2,724.0 912.6,720.2 934.0,683.6 954.7,666.9 975.5,638.6 995.1,625.7 1016.7,618.6 1038.0,595.5 1058.2,583.7 1078.7,571.7 1099.9,564.6 1120.8,549.2 1142.3,542.0 1163.2,519.9 1182.8,513.5 1204.1,507.1 1225.8,495.6 1245.2,480.8 1263.5,486.3 1286.4,492.8 1308.6,481.7 1328.7,476.8 1349.3,473.8 1370.0,471.5 1389.3,470.5 1411.2,481.8 1433.1,472.5 1453.0,476.4 1474.0,475.5 1495.1,478.7 1516.6,476.6 1537.7,474.5 1558.1,471.5 1578.9,473.3 1578.9,928.2 532.3,928.2" fill-opacity="0.1103"/>
<polygon points="532.3,928.2 553.2,928.2 574.1,928.2 595.1,928.2 616.0,928.2 636.9,928.2 657.9,928.2 678.8,928.2 703.6,916.8 723.1,905.7 745.1,901.1 766.1,880.7 786.1,875.6 809.6,862.3 831.4,822.9 851.6,784.2 872.8,773.0 893.5,725.1 913.8,721.5 935.4,684.7 956.0,668.1 976.7,639.8 995.8,627.2 1017.7,620.0 1039.1,596.8 1059.1,585.2 1079.4,573.2 1100.7,566.1 1121.6,550.7 1143.2,543.4 1164.2,521.3 1183.3,515.1 1204.8,508.7 1226.7,497.1 1245.6,482.5 1263.1,487.9 1286.6,494.5 1309.2,483.3 1329.0,478.5 1349.5,475.5 1370.1,473.2 1388.9,472.2 1411.1,483.5 1433.3,474.2 1452.8,478.1 1473.9,477.2 1495.0,480.4 1516.8,478.3 1537.9,476.2 1558.2,473.2 1578.9,475.0 1578.9,928.2 532.3,928.2" fill-opacity="0.1103"/>
<polygon points="532.3,928.2 553.2,928.2 574.1,928.2 595.1,928.2 616.0,928.2 636.9,928.2 657.9,928.2 678.8,928.2 704.6,918.2 723.7,907.3 745.9,902.6 767.1,882.1 786.7,877.2 810.9,863.4 832.9,823.7 852.9,785.3 874.2,774.0 894.8,726.2 915.0,722.7 936.7,685.8 957.2,669.2 978.0,641.0 996.6,628.8 1018.7,621.4 1040.2,598.1 1059.9,586.7 1080.1,574.8 1101.5,567.6 1122.4,552.2 1144.2,544.8 1165.2,522.7 1183.8,516.8 1205.4,510.3 1227.6,498.5 1246.0,484.2 1262.6,489.6 1286.8,496.2 1309.8,484.9 1329.4,480.1 1349.8,477.2 1370.2,474.9 1388.5,473.8 1411.1,485.2 1433.5,475.9 1452.7,479.8 1473.8,478.9 1495.0,482.1 1517.0,480.0 1538.1,477.9 1558.3,474.9 1578.9,476.7 1578.9,928.2 532.3,928.2" fill-opacity="0.1103"/>
</g>
<line x1="535.6" y1="924.6" x2="1580.6" y2="924.6" stroke="#8f8f96" stroke-opacity="0.2" stroke-width="2.9"/>
<path d="M579.6 920.5L573.1 928.2M600.5 920.5L594.0 928.2M621.3 920.5L615.0 928.2M642.2 920.5L635.9 928.2M663.1 920.5L656.8 928.2M683.9 920.5L677.8 928.2M704.8 920.5L698.7 928.2M725.7 920.5L719.6 928.2M746.5 920.5L740.6 928.2M767.4 920.5L761.5 928.2M788.3 920.5L782.4 928.2M809.1 920.5L803.4 928.2M830.0 920.5L824.3 928.2M850.9 920.5L845.2 928.2M871.7 920.5L866.2 928.2M892.6 920.5L887.1 928.2M913.5 920.5L908.0 928.2M934.3 920.5L929.0 928.2M955.2 920.5L949.9 928.2M976.1 920.5L970.8 928.2M996.9 920.5L991.8 928.2M1017.8 920.5L1012.7 928.2M1038.7 920.5L1033.6 928.2M1059.5 920.5L1054.6 928.2M1080.4 920.5L1075.5 928.2M1101.3 920.5L1096.4 928.2M1122.1 920.5L1117.4 928.2M1143.0 920.5L1138.3 928.2M1163.9 920.5L1159.2 928.2M1184.7 920.5L1180.1 928.2M1205.6 920.5L1201.1 928.2M1226.5 920.5L1222.0 928.2M1247.3 920.5L1242.9 928.2M1268.2 920.5L1263.9 928.2M1289.1 920.5L1284.8 928.2M1309.9 920.5L1305.7 928.2M1330.8 920.5L1326.7 928.2M1351.7 920.5L1347.6 928.2M1372.5 920.5L1368.5 928.2M1393.4 920.5L1389.5 928.2M1414.3 920.5L1410.4 928.2M1435.1 920.5L1431.3 928.2M1456.0 920.5L1452.3 928.2M1476.9 920.5L1473.2 928.2M1497.7 920.5L1494.1 928.2M1518.6 920.5L1515.1 928.2M1539.5 920.5L1536.0 928.2M1560.3 920.5L1556.9 928.2M1581.2 920.5L1577.9 928.2" fill="none" stroke="#f0523c" stroke-opacity="0.3" stroke-width="0.9"/>
<g fill="url(#gC)"><circle cx="536.3" cy="923.3" r="8.1"/><ellipse cx="556.5" cy="923.0" rx="8.7" ry="7.4"/><ellipse cx="577.4" cy="923.0" rx="8.7" ry="7.4"/><ellipse cx="598.3" cy="923.0" rx="8.7" ry="7.4"/><ellipse cx="619.2" cy="923.0" rx="8.7" ry="7.4"/><ellipse cx="640.1" cy="923.0" rx="8.7" ry="7.4"/><ellipse cx="661.0" cy="923.0" rx="8.7" ry="7.4"/><ellipse cx="681.9" cy="923.0" rx="8.7" ry="7.4"/><circle cx="702.8" cy="907.3" r="9.0"/><circle cx="723.7" cy="895.5" r="9.0"/><circle cx="744.6" cy="891.4" r="9.0"/><circle cx="765.5" cy="871.1" r="9.0"/><circle cx="786.4" cy="865.5" r="9.0"/><circle cx="807.3" cy="854.1" r="9.0"/><circle cx="828.2" cy="816.0" r="9.0"/><circle cx="849.1" cy="776.2" r="9.0"/><circle cx="870.0" cy="765.4" r="9.0"/><circle cx="890.9" cy="717.3" r="9.0"/><circle cx="911.8" cy="713.0" r="9.0"/><circle cx="932.7" cy="677.0" r="9.0"/><circle cx="953.6" cy="660.0" r="9.0"/><circle cx="974.5" cy="631.6" r="9.0"/><circle cx="995.4" cy="617.7" r="9.0"/><circle cx="1016.3" cy="611.0" r="9.0"/><circle cx="1037.2" cy="588.2" r="9.0"/><circle cx="1058.1" cy="576.0" r="9.0"/><circle cx="1079.0" cy="563.7" r="9.0"/><circle cx="1099.9" cy="556.8" r="9.0"/><circle cx="1120.8" cy="541.4" r="9.0"/><circle cx="1141.7" cy="534.5" r="9.0"/><circle cx="1162.6" cy="512.5" r="9.0"/><circle cx="1183.5" cy="505.4" r="9.0"/><circle cx="1204.4" cy="499.2" r="9.0"/><circle cx="1225.3" cy="488.1" r="9.0"/><circle cx="1246.2" cy="472.7" r="9.0"/><circle cx="1267.1" cy="478.2" r="9.0"/><circle cx="1288.0" cy="484.5" r="9.0"/><circle cx="1308.9" cy="473.8" r="9.0"/><circle cx="1329.8" cy="468.6" r="9.0"/><circle cx="1350.7" cy="465.6" r="9.0"/><circle cx="1371.6" cy="463.2" r="9.0"/><circle cx="1392.5" cy="462.4" r="9.0"/><circle cx="1413.4" cy="473.5" r="9.0"/><circle cx="1434.3" cy="464.3" r="9.0"/><circle cx="1455.2" cy="468.1" r="9.0"/><circle cx="1476.1" cy="467.2" r="9.0"/><circle cx="1497.0" cy="470.4" r="9.0"/><circle cx="1517.9" cy="468.3" r="9.0"/><circle cx="1538.8" cy="466.3" r="9.0"/><circle cx="1559.7" cy="463.2" r="9.0"/><circle cx="1580.6" cy="465.0" r="9.0"/></g>
<g fill="#f93a5d">
<polygon points="317.6,1177.3 340.6,1007.6 363.7,885.9 386.8,850.6 409.9,822.8 432.9,793.8 456.0,778.2 479.1,749.4 502.2,742.6 525.3,734.5 548.3,737.8 571.4,729.2 594.5,723.9 617.6,696.3 640.6,702.1 663.7,696.3 686.8,690.6 709.9,692.5 733.0,688.3 756.0,685.5 779.1,683.0 802.2,688.2 825.3,684.4 848.3,675.1 871.4,678.9 894.5,673.0 917.6,673.8 940.7,672.5 963.7,671.8 986.8,673.8 1009.9,665.5 1033.0,665.5 1056.0,662.4 1079.1,668.7 1102.2,661.9 1125.3,659.1 1148.4,665.0 1171.4,661.4 1194.5,664.4 1217.6,663.2 1240.7,656.2 1263.7,660.2 1286.8,658.0 1309.9,659.2 1333.0,652.2 1356.1,654.2 1379.1,652.4 1402.2,654.2 1425.3,657.2 1448.4,653.4 1471.4,655.2 1471.4,1177.3 317.6,1177.3" fill-opacity="0.129"/>
<polyline points="317.6,1177.3 340.6,1007.6 363.7,885.9 386.8,850.6 409.9,822.8 432.9,793.8 456.0,778.2 479.1,749.4 502.2,742.6 525.3,734.5 548.3,737.8 571.4,729.2 594.5,723.9 617.6,696.3 640.6,702.1 663.7,696.3 686.8,690.6 709.9,692.5 733.0,688.3 756.0,685.5 779.1,683.0 802.2,688.2 825.3,684.4 848.3,675.1 871.4,678.9 894.5,673.0 917.6,673.8 940.7,672.5 963.7,671.8 986.8,673.8 1009.9,665.5 1033.0,665.5 1056.0,662.4 1079.1,668.7 1102.2,661.9 1125.3,659.1 1148.4,665.0 1171.4,661.4 1194.5,664.4 1217.6,663.2 1240.7,656.2 1263.7,660.2 1286.8,658.0 1309.9,659.2 1333.0,652.2 1356.1,654.2 1379.1,652.4 1402.2,654.2 1425.3,657.2 1448.4,653.4 1471.4,655.2" fill="none" stroke="#ee4a66" stroke-opacity="0.14" stroke-width="0.9" stroke-linejoin="round"/>
<polygon points="1467.4,662.8 1471.4,655.2 1471.4,1177.3 1467.4,1186.7" fill-opacity="0.237"/>
<polygon points="309.5,1186.7 329.8,1016.0 353.0,893.5 376.6,857.2 399.9,829.2 423.3,799.8 446.4,784.2 469.8,755.0 493.9,747.7 517.6,739.5 540.7,742.8 563.4,734.3 585.7,729.4 609.3,701.5 633.7,707.0 656.1,701.3 679.8,695.4 703.0,697.4 725.9,693.1 749.1,690.3 772.8,687.8 795.9,693.0 818.2,689.3 841.8,679.9 865.1,683.7 888.1,677.8 911.6,678.6 934.6,677.3 958.0,676.6 980.7,678.6 1003.7,670.3 1027.2,670.3 1050.7,667.2 1073.7,673.5 1096.3,666.7 1120.2,663.9 1143.3,669.8 1166.3,666.2 1189.6,669.2 1212.1,668.0 1235.6,661.0 1259.1,665.0 1282.1,662.8 1304.9,664.0 1328.1,657.0 1351.6,659.0 1374.8,657.2 1398.2,659.0 1421.0,662.0 1444.1,658.2 1467.4,660.0 1467.4,1186.7 309.5,1186.7" fill-opacity="0.1006"/>
<polygon points="309.5,1186.7 331.7,1016.3 354.9,894.0 378.2,858.3 401.4,830.4 424.6,801.2 447.7,785.5 471.0,756.5 494.4,749.5 517.8,741.4 540.9,744.7 563.9,736.1 586.8,730.9 610.1,703.2 633.7,708.9 656.6,703.2 679.9,697.3 703.1,699.3 726.2,695.0 749.4,692.2 772.7,689.7 795.8,694.9 818.7,691.1 842.0,681.8 865.2,685.6 888.3,679.7 911.6,680.5 934.7,679.2 957.9,678.5 980.9,680.5 1004.0,672.2 1027.3,672.2 1050.6,669.1 1073.7,675.4 1096.7,668.6 1120.1,665.8 1143.2,671.7 1166.3,668.1 1189.5,671.1 1212.5,669.9 1235.7,662.9 1259.0,666.9 1282.1,664.7 1305.2,665.9 1328.3,658.9 1351.6,660.8 1374.8,659.0 1398.0,660.9 1421.1,663.9 1444.2,660.0 1467.4,661.9 1467.4,1186.7 309.5,1186.7" fill-opacity="0.1006"/>
<polygon points="309.5,1186.7 333.5,1016.6 356.7,894.6 379.7,859.4 402.8,831.6 425.9,802.5 449.1,786.9 472.1,758.0 495.0,751.4 518.0,743.3 541.1,746.6 564.5,737.9 587.9,732.5 610.9,704.9 633.7,710.8 657.1,705.0 680.1,699.2 703.2,701.2 726.5,696.9 749.6,694.1 772.6,691.6 795.8,696.8 819.2,693.0 842.2,683.7 865.3,687.5 888.5,681.6 911.6,682.4 934.8,681.1 957.9,680.4 981.2,682.4 1004.4,674.0 1027.4,674.1 1050.5,671.0 1073.7,677.3 1097.0,670.4 1119.9,667.7 1143.1,673.6 1166.3,670.0 1189.4,673.0 1212.8,671.7 1235.9,664.7 1258.9,668.8 1282.1,666.6 1305.4,667.7 1328.5,660.7 1351.6,662.7 1374.8,660.9 1397.8,662.7 1421.1,665.7 1444.3,661.9 1467.4,663.7 1467.4,1186.7 309.5,1186.7" fill-opacity="0.1006"/>
<polygon points="309.5,1186.7 335.4,1016.9 358.5,895.1 381.2,860.5 404.3,832.8 427.2,803.9 450.4,788.3 473.3,759.5 495.6,753.2 518.2,745.2 541.4,748.5 565.0,739.7 589.0,734.0 611.7,706.6 633.7,712.7 657.5,706.8 680.2,701.1 703.3,703.1 726.7,698.8 749.8,696.0 772.5,693.5 795.7,698.7 819.7,694.8 842.4,685.6 865.4,689.4 888.7,683.5 911.6,684.3 934.9,683.0 957.8,682.3 981.4,684.2 1004.7,675.9 1027.6,676.0 1050.3,672.8 1073.7,679.2 1097.4,672.3 1119.8,669.5 1143.0,675.5 1166.4,671.8 1189.4,674.9 1213.1,673.6 1236.0,666.6 1258.9,670.6 1282.2,668.4 1305.6,669.6 1328.7,662.6 1351.6,664.6 1374.8,662.8 1397.6,664.6 1421.1,667.6 1444.4,663.8 1467.4,665.6 1467.4,1186.7 309.5,1186.7" fill-opacity="0.1006"/>
</g>
<line x1="313.5" y1="1182.3" x2="1469.4" y2="1182.3" stroke="#8f8f96" stroke-opacity="0.2" stroke-width="3.2"/>
<path d="M362.6 1177.3L354.6 1186.7M385.6 1177.3L377.8 1186.7M408.7 1177.3L400.9 1186.7M431.8 1177.3L424.1 1186.7M454.9 1177.3L447.2 1186.7M477.9 1177.3L470.4 1186.7M501.0 1177.3L493.6 1186.7M524.1 1177.3L516.7 1186.7M547.2 1177.3L539.9 1186.7M570.3 1177.3L563.0 1186.7M593.3 1177.3L586.2 1186.7M616.4 1177.3L609.4 1186.7M639.5 1177.3L632.5 1186.7M662.6 1177.3L655.7 1186.7M685.6 1177.3L678.8 1186.7M708.7 1177.3L702.0 1186.7M731.8 1177.3L725.2 1186.7M754.9 1177.3L748.3 1186.7M778.0 1177.3L771.5 1186.7M801.0 1177.3L794.6 1186.7M824.1 1177.3L817.8 1186.7M847.2 1177.3L840.9 1186.7M870.3 1177.3L864.1 1186.7M893.4 1177.3L887.3 1186.7M916.4 1177.3L910.4 1186.7M939.5 1177.3L933.6 1186.7M962.6 1177.3L956.7 1186.7M985.7 1177.3L979.9 1186.7M1008.7 1177.3L1003.1 1186.7M1031.8 1177.3L1026.2 1186.7M1054.9 1177.3L1049.4 1186.7M1078.0 1177.3L1072.5 1186.7M1101.1 1177.3L1095.7 1186.7M1124.1 1177.3L1118.9 1186.7M1147.2 1177.3L1142.0 1186.7M1170.3 1177.3L1165.2 1186.7M1193.4 1177.3L1188.3 1186.7M1216.4 1177.3L1211.5 1186.7M1239.5 1177.3L1234.6 1186.7M1262.6 1177.3L1257.8 1186.7M1285.7 1177.3L1281.0 1186.7M1308.8 1177.3L1304.1 1186.7M1331.8 1177.3L1327.3 1186.7M1354.9 1177.3L1350.4 1186.7M1378.0 1177.3L1373.6 1186.7M1401.1 1177.3L1396.8 1186.7M1424.1 1177.3L1419.9 1186.7M1447.2 1177.3L1443.1 1186.7M1470.3 1177.3L1466.2 1186.7" fill="none" stroke="#ee4a66" stroke-opacity="0.3" stroke-width="0.9"/>
<g fill="url(#gO)"><circle cx="314.3" cy="1181.4" r="8.9"/><circle cx="336.6" cy="1012.0" r="9.9"/><circle cx="359.7" cy="890.1" r="9.9"/><circle cx="382.9" cy="854.7" r="9.9"/><circle cx="406.0" cy="826.9" r="9.9"/><circle cx="429.1" cy="797.8" r="9.9"/><circle cx="452.2" cy="782.2" r="9.9"/><circle cx="475.3" cy="753.3" r="9.9"/><circle cx="498.5" cy="746.5" r="9.9"/><circle cx="521.6" cy="738.4" r="9.9"/><circle cx="544.7" cy="741.7" r="9.9"/><circle cx="567.8" cy="733.1" r="9.9"/><circle cx="590.9" cy="727.8" r="9.9"/><circle cx="614.0" cy="700.2" r="9.9"/><circle cx="637.2" cy="706.0" r="9.9"/><circle cx="660.3" cy="700.2" r="9.9"/><circle cx="683.4" cy="694.4" r="9.9"/><circle cx="706.5" cy="696.4" r="9.9"/><circle cx="729.6" cy="692.1" r="9.9"/><circle cx="752.8" cy="689.3" r="9.9"/><circle cx="775.9" cy="686.8" r="9.9"/><circle cx="799.0" cy="692.0" r="9.9"/><circle cx="822.1" cy="688.2" r="9.9"/><circle cx="845.2" cy="678.9" r="9.9"/><circle cx="868.4" cy="682.7" r="9.9"/><circle cx="891.5" cy="676.8" r="9.9"/><circle cx="914.6" cy="677.6" r="9.9"/><circle cx="937.7" cy="676.3" r="9.9"/><circle cx="960.8" cy="675.6" r="9.9"/><circle cx="983.9" cy="677.6" r="9.9"/><circle cx="1007.1" cy="669.3" r="9.9"/><circle cx="1030.2" cy="669.3" r="9.9"/><circle cx="1053.3" cy="666.2" r="9.9"/><circle cx="1076.4" cy="672.5" r="9.9"/><circle cx="1099.5" cy="665.7" r="9.9"/><circle cx="1122.7" cy="662.9" r="9.9"/><circle cx="1145.8" cy="668.8" r="9.9"/><circle cx="1168.9" cy="665.2" r="9.9"/><circle cx="1192.0" cy="668.2" r="9.9"/><circle cx="1215.1" cy="667.0" r="9.9"/><circle cx="1238.2" cy="660.0" r="9.9"/><circle cx="1261.4" cy="664.0" r="9.9"/><circle cx="1284.5" cy="661.8" r="9.9"/><circle cx="1307.6" cy="663.0" r="9.9"/><circle cx="1330.7" cy="656.0" r="9.9"/><circle cx="1353.8" cy="658.0" r="9.9"/><circle cx="1377.0" cy="656.2" r="9.9"/><circle cx="1400.1" cy="658.0" r="9.9"/><circle cx="1423.2" cy="661.0" r="9.9"/><circle cx="1446.3" cy="657.2" r="9.9"/><circle cx="1469.4" cy="659.0" r="9.9"/></g>
<text transform="translate(339.7 977.7) scale(0.965 1)" font-size="65.5" text-anchor="middle">29.3</text>
<text transform="translate(1329.5 643.5) scale(0.965 1)" font-size="61.1" text-anchor="middle">91.1</text>
<text transform="translate(1392.0 451.0) scale(0.965 1)" font-size="55.2" text-anchor="middle">88.4</text>
<text transform="translate(1462.0 275.7) scale(0.965 1)" font-size="50.4" text-anchor="middle">89.3</text>
<text transform="translate(1433.5 132.2) scale(0.965 1)" font-size="46.3" text-anchor="middle">89.6</text>
<g stroke="#000" stroke-linecap="round" fill="none" stroke-width="4.4">
<line x1="183.8" y1="723.5" x2="183.8" y2="1332.5"/>
<line x1="183.8" y1="1332.5" x2="1404.5" y2="1332.5"/>
<line x1="183.8" y1="1332.5" x2="183.8" y2="1354.5"/>
<line x1="305.9" y1="1332.5" x2="305.9" y2="1343.0"/>
<line x1="427.9" y1="1332.5" x2="427.9" y2="1354.5"/>
<line x1="550.0" y1="1332.5" x2="550.0" y2="1343.0"/>
<line x1="672.1" y1="1332.5" x2="672.1" y2="1354.5"/>
<line x1="794.2" y1="1332.5" x2="794.2" y2="1343.0"/>
<line x1="916.2" y1="1332.5" x2="916.2" y2="1354.5"/>
<line x1="1038.3" y1="1332.5" x2="1038.3" y2="1343.0"/>
<line x1="1160.4" y1="1332.5" x2="1160.4" y2="1354.5"/>
<line x1="1282.4" y1="1332.5" x2="1282.4" y2="1343.0"/>
<line x1="1404.5" y1="1332.5" x2="1404.5" y2="1354.5"/>
<line x1="183.8" y1="1332.5" x2="161.8" y2="1332.5"/>
<line x1="183.8" y1="1271.6" x2="173.3" y2="1271.6"/>
<line x1="183.8" y1="1210.7" x2="161.8" y2="1210.7"/>
<line x1="183.8" y1="1149.8" x2="173.3" y2="1149.8"/>
<line x1="183.8" y1="1088.9" x2="161.8" y2="1088.9"/>
<line x1="183.8" y1="1028.0" x2="173.3" y2="1028.0"/>
<line x1="183.8" y1="967.1" x2="161.8" y2="967.1"/>
<line x1="183.8" y1="906.2" x2="173.3" y2="906.2"/>
<line x1="183.8" y1="845.3" x2="161.8" y2="845.3"/>
<line x1="183.8" y1="784.4" x2="173.3" y2="784.4"/>
<line x1="183.8" y1="723.5" x2="161.8" y2="723.5"/>
</g>
<polygon points="1406.6,1333.4 1784.7,455.3 1781.7,454.1 1402.4,1331.6" fill="#000"/>
<g stroke="#000" stroke-linecap="round" fill="none">
<line x1="1404.5" y1="1332.5" x2="1414.5" y2="1332.5" stroke-width="4.4"/>
<line x1="1469.4" y1="1182.0" x2="1489.3" y2="1182.0" stroke-width="4.2"/>
<line x1="1527.8" y1="1046.7" x2="1536.8" y2="1046.7" stroke-width="4.0"/>
<line x1="1580.6" y1="924.4" x2="1598.6" y2="924.4" stroke-width="3.8"/>
<line x1="1628.5" y1="813.2" x2="1636.7" y2="813.2" stroke-width="3.6"/>
<line x1="1672.3" y1="711.8" x2="1688.7" y2="711.8" stroke-width="3.4"/>
<line x1="1712.4" y1="618.9" x2="1719.8" y2="618.9" stroke-width="3.3"/>
<line x1="1749.2" y1="533.5" x2="1764.3" y2="533.5" stroke-width="3.2"/>
<line x1="1783.2" y1="454.7" x2="1790.1" y2="454.7" stroke-width="3.0"/>
</g>
<text transform="translate(183.8 1423.3) scale(0.965 1)" font-size="61.5" text-anchor="middle">0</text>
<text transform="translate(427.9 1423.3) scale(0.965 1)" font-size="61.5" text-anchor="middle">10</text>
<text transform="translate(672.1 1423.3) scale(0.965 1)" font-size="61.5" text-anchor="middle">20</text>
<text transform="translate(916.2 1423.3) scale(0.965 1)" font-size="61.5" text-anchor="middle">30</text>
<text transform="translate(1160.4 1423.3) scale(0.965 1)" font-size="61.5" text-anchor="middle">40</text>
<text transform="translate(1404.5 1423.3) scale(0.965 1)" font-size="61.5" text-anchor="middle">50</text>
<text transform="translate(147.4 1353.0) scale(0.965 1)" font-size="61.5" text-anchor="end">0</text>
<text transform="translate(147.4 1231.2) scale(0.965 1)" font-size="61.5" text-anchor="end">20</text>
<text transform="translate(147.4 1109.4) scale(0.965 1)" font-size="61.5" text-anchor="end">40</text>
<text transform="translate(147.4 987.6) scale(0.965 1)" font-size="61.5" text-anchor="end">60</text>
<text transform="translate(147.4 865.8) scale(0.965 1)" font-size="61.5" text-anchor="end">80</text>
<text transform="translate(147.4 744.0) scale(0.965 1)" font-size="61.5" text-anchor="end">100</text>
<text transform="translate(1503.5 1202.5) scale(0.965 1)" font-size="58.2" text-anchor="start">OURS</text>
<text transform="translate(1611.4 942.8) scale(0.965 1)" font-size="52.6" text-anchor="start">CasRel</text>
<text transform="translate(1700.4 728.7) scale(0.965 1)" font-size="48.0" text-anchor="start">TPLinker</text>
<text transform="translate(1775.1 549.0) scale(0.965 1)" font-size="44.2" text-anchor="start">PRGC</text>
<text transform="translate(794.0 1498.0) scale(0.965 1)" font-size="66.0" text-anchor="middle">Epoch</text>
<text transform="translate(65.0 1028.5) rotate(-90) scale(0.965 1)" font-size="66.0" text-anchor="middle">F1(%)</text>
<text transform="matrix(0.1469 -0.4966 0.8139 0 1941.7 816.4)" font-size="100" text-anchor="middle"><tspan font-size="103.6">M</tspan><tspan font-size="101.2">o</tspan><tspan font-size="99.5">d</tspan><tspan font-size="97.9">e</tspan><tspan font-size="96.8">l</tspan><tspan font-size="95.8">s</tspan></text>
</svg></body></html>
